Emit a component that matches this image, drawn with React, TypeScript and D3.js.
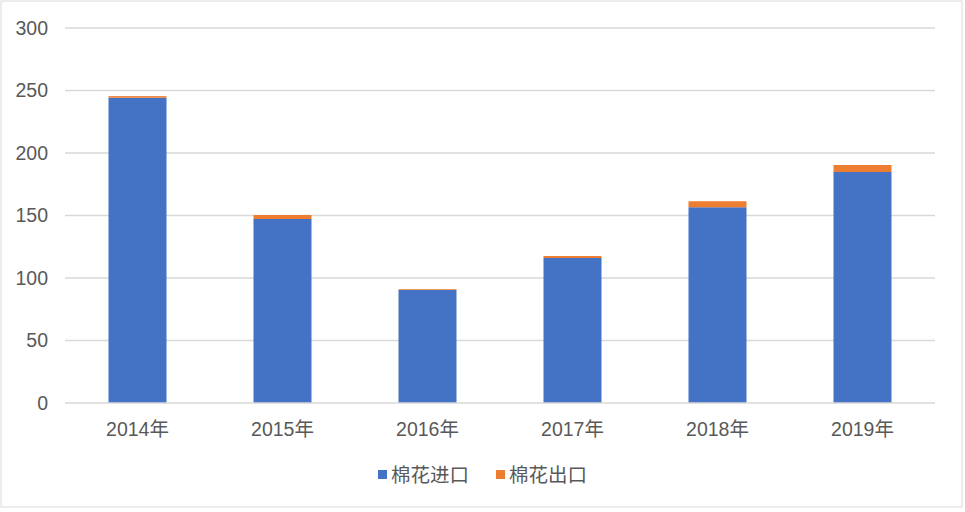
import React from "react";
import * as d3 from "d3";

const categories = ["2014年", "2015年", "2016年", "2017年", "2018年", "2019年"];
const importValues = [244.2, 147.2, 90.4, 116.0, 156.6, 184.8];
const exportValues = [1.3, 3.2, 0.6, 1.6, 4.8, 5.6];
const seriesNames = ["棉花进口", "棉花出口"];
const yTicks = [0, 50, 100, 150, 200, 250, 300];

const W = 965;
const H = 512;
const colors = ["#4472C4", "#ED7D31"];
const font = "'Liberation Sans', 'Noto Sans CJK SC', Arial, sans-serif";
const fs = 19.5;

export default function App() {
  const left = 65, right = 935, top = 28, bottom = 403;
  const x = d3.scaleBand<string>().domain(categories).range([left, right]).paddingInner(0.6).paddingOuter(0.3);
  const y = d3.scaleLinear().domain([0, 300]).range([bottom, top]);
  const data = categories.map((c, i) => ({ c, imp: importValues[i], exp: exportValues[i] }));
  const stack = d3.stack<any>().keys(["imp", "exp"])(data as any);

  return (
    <div style={{ position: "absolute", left: 0, top: 0 }}>
      <svg width={W} height={H} style={{ display: "block", background: "#fff" }}>
        <rect x={1} y={1} width={961} height={506} fill="#fff" stroke="#D9D9D9" strokeWidth={1} />
        {yTicks.map((t) => (
          <g key={t}>
            {t !== 0 && (
              <line x1={left} x2={right} y1={y(t)} y2={y(t)} stroke="#D9D9D9" strokeWidth={1.3} />
            )}
            <text x={48} y={y(t)} dy="0.35em" textAnchor="end" fontFamily={font} fontSize={fs} fill="#595959">
              {t}
            </text>
          </g>
        ))}
        {stack.map((s, si) =>
          s.map((d, i) => (
            <rect
              key={si + "-" + i}
              x={x(categories[i])}
              width={x.bandwidth()}
              y={y(d[1])}
              height={Math.max(0, y(d[0]) - y(d[1]))}
              fill={colors[si]}
            />
          ))
        )}
        <line x1={left} x2={right} y1={bottom} y2={bottom} stroke="#D9D9D9" strokeWidth={1.3} />
        {categories.map((c) => (
          <text key={c} x={(x(c) as number) + x.bandwidth() / 2} y={429} dy="0.35em" textAnchor="middle" fontFamily={font} fontSize={fs} fill="#595959">
            {c}
          </text>
        ))}
        <g>
          <rect x={378} y={470} width={9} height={9} fill={colors[0]} />
          <text x={391} y={475} dy="0.35em" fontFamily={font} fontSize={fs} fill="#595959">{seriesNames[0]}</text>
          <rect x={496} y={470} width={9} height={9} fill={colors[1]} />
          <text x={509} y={475} dy="0.35em" fontFamily={font} fontSize={fs} fill="#595959">{seriesNames[1]}</text>
        </g>
      </svg>
    </div>
  );
}
